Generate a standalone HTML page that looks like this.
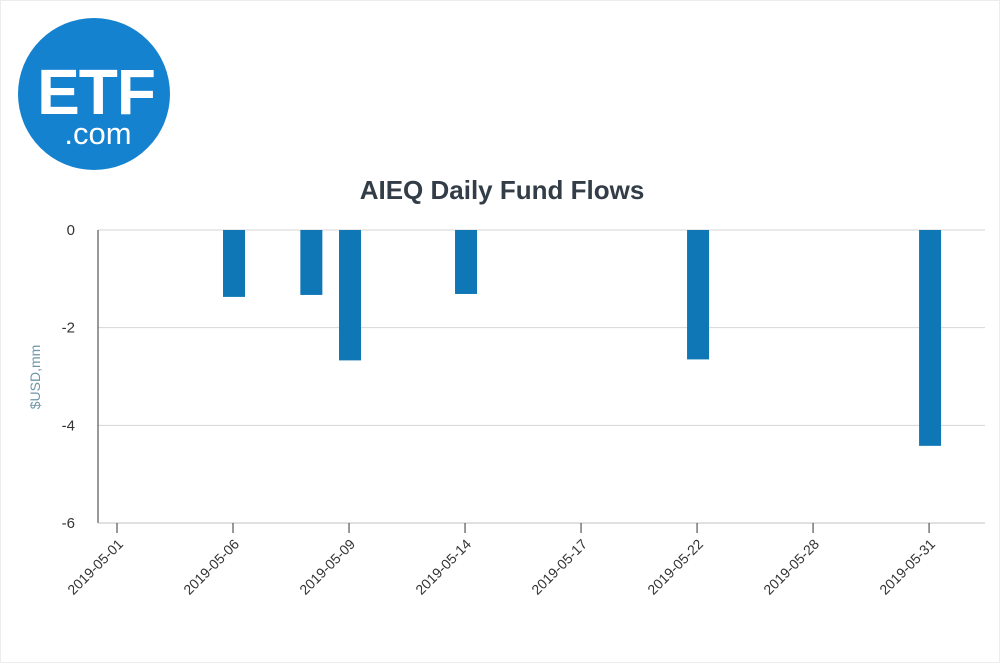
<!DOCTYPE html>
<html><head><meta charset="utf-8"><style>
body{margin:0;background:#fff;width:1000px;height:663px;overflow:hidden;font-family:"Liberation Sans",sans-serif}
</style></head><body>
<svg width="1000" height="663" xmlns="http://www.w3.org/2000/svg">
<rect x="0.5" y="0.5" width="999" height="662" fill="#fff" stroke="#ececec"/>
<g>
<circle cx="94" cy="94" r="76" fill="#1582d0"/>
<text x="96" y="114" text-anchor="middle" font-size="64" font-weight="bold" fill="#fff" font-family="Liberation Sans,sans-serif" letter-spacing="-1">ETF</text>
<text x="98" y="144" text-anchor="middle" font-size="31" fill="#fff">.com</text>
</g>
<text x="502" y="199" text-anchor="middle" font-size="26" font-weight="bold" fill="#333d47">AIEQ Daily Fund Flows</text>
<text transform="translate(40,377) rotate(-90)" text-anchor="middle" font-size="14" fill="#6f95a8">$USD,mm</text>
<g id="grid"></g><g id="bars"></g><g id="axes"></g>
</svg>
<script>
const categories=["2019-05-01","2019-05-02","2019-05-03","2019-05-06","2019-05-07","2019-05-08","2019-05-09","2019-05-10","2019-05-13","2019-05-14","2019-05-15","2019-05-16","2019-05-17","2019-05-20","2019-05-21","2019-05-22","2019-05-23","2019-05-24","2019-05-28","2019-05-29","2019-05-30","2019-05-31"];
const values=[0,0,0,-1.37,0,-1.33,-2.67,0,0,-1.31,0,0,0,0,0,-2.65,0,0,0,0,0,-4.42];
const yTicks=[0,-2,-4,-6];
const xTickLabels=["2019-05-01","2019-05-06","2019-05-09","2019-05-14","2019-05-17","2019-05-22","2019-05-28","2019-05-31"];
const NS="http://www.w3.org/2000/svg";
const x0=98,x1=985,y0=230,yUnit=(523-230)/6,step=38.67;
const yS=v=>y0-v*yUnit;
const xS=i=>117+i*step;
function mk(t,a,p){const e=document.createElementNS(NS,t);for(const k in a)e.setAttribute(k,a[k]);p.appendChild(e);return e;}
const grid=document.getElementById('grid'),bars=document.getElementById('bars'),axes=document.getElementById('axes');
yTicks.forEach(v=>{
  const l=mk('line',{x1:x0,x2:x1,y1:yS(v),y2:yS(v),stroke:'#d6d6d6'},grid);
  
  
  const t=mk('text',{x:75,y:yS(v)+5,'text-anchor':'end','font-size':15,fill:'#333'},axes);
  t.textContent=v;
  
  
});
const ax=mk('line',{x1:x0,x2:x0,y1:y0,y2:523,stroke:'#333'},axes);


const bx=mk('line',{x1:x0,x2:x1,y1:523,y2:523,stroke:'#c0c0c0'},axes);


values.forEach((v,i)=>{
  if(v===0)return;
  const r=mk('rect',{x:xS(i)-10,y:yS(0),width:22,height:yS(v)-yS(0),fill:'#0f77b5'},bars);
  
  
});
xTickLabels.forEach(lab=>{
  const i=categories.indexOf(lab),x=xS(i);
  const tk=mk('line',{x1:x,x2:x,y1:523,y2:533,stroke:'#333'},axes);
  
  
  const t=mk('text',{transform:`translate(${x+7},${545}) rotate(-45)`,'text-anchor':'end','font-size':14,fill:'#333'},axes);
  t.textContent=lab;
  
  
});
</script>
</body></html>
